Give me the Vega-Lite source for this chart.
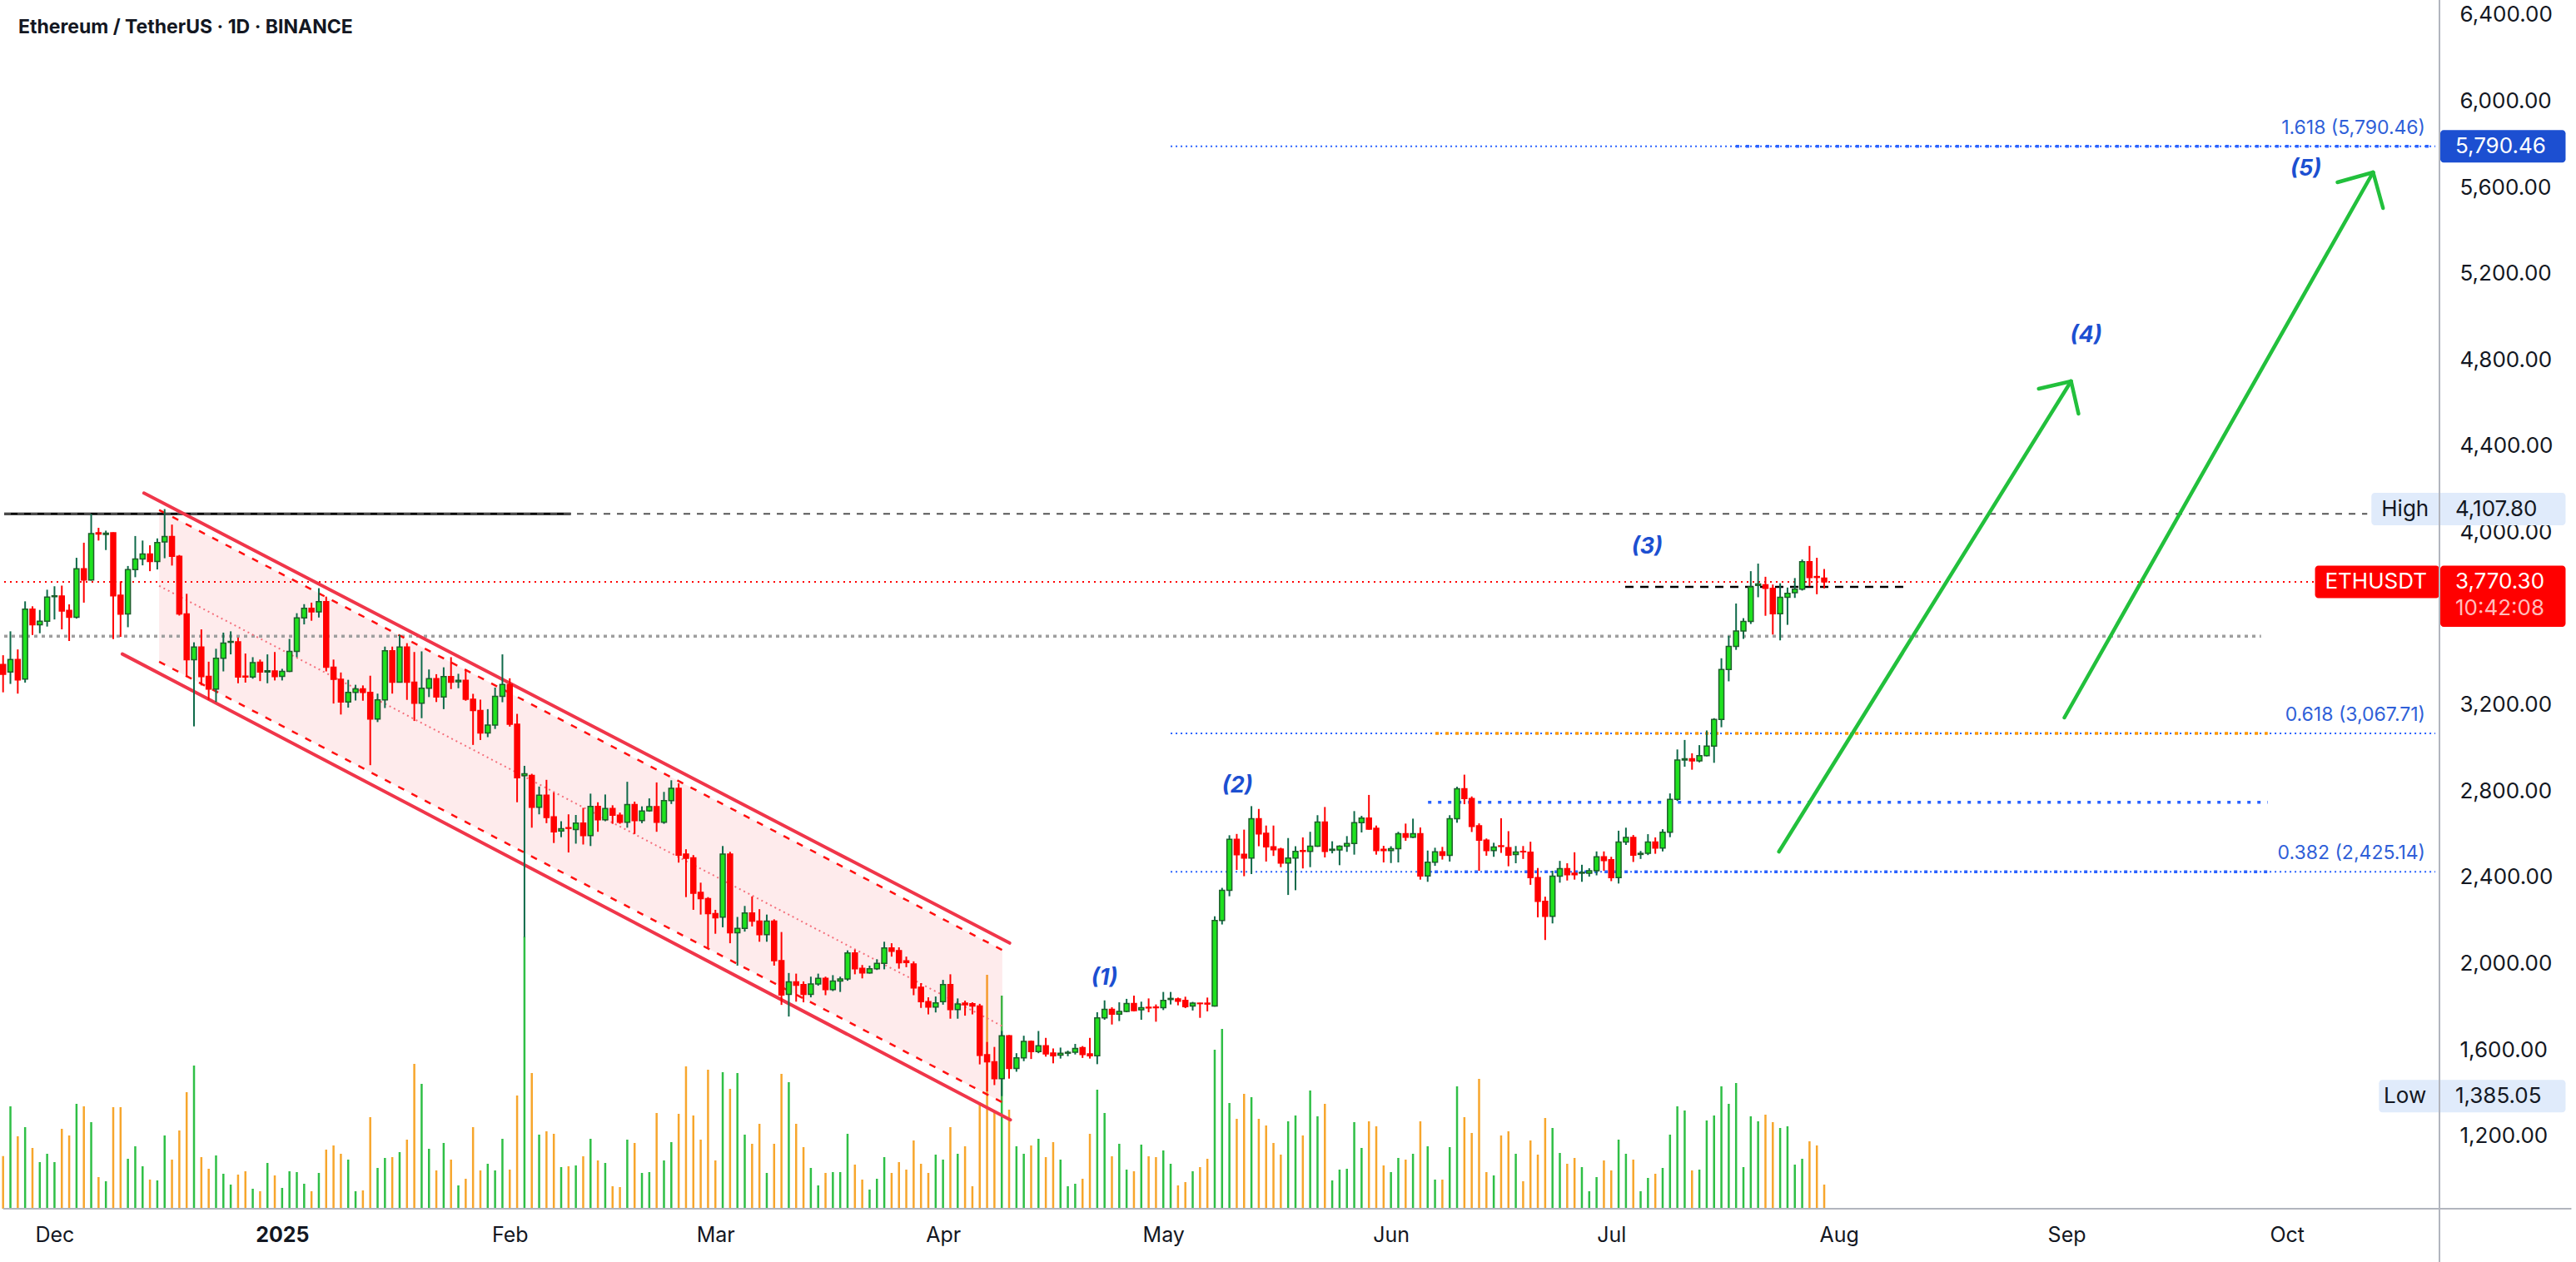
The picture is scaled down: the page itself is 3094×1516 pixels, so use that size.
{
"$schema":"https://vega.github.io/schema/vega-lite/v6.json",
"width":2935,"height":1452,"autosize":"none",
"padding":{"left":0,"top":0,"right":159,"bottom":64},
"background":"white",
"config":{"view":{"stroke":null},"font":"Inter"},
"datasets":{
"candles":[
{"t":"2024-11-24","o":3387,"h":3430,"l":3258,"c":3342,"v":506},
{"t":"2024-11-25","o":3352,"h":3541,"l":3297,"c":3410,"v":984},
{"t":"2024-11-26","o":3410,"h":3457,"l":3252,"c":3316,"v":696},
{"t":"2024-11-27","o":3319,"h":3680,"l":3303,"c":3644,"v":784},
{"t":"2024-11-28","o":3644,"h":3657,"l":3524,"c":3571,"v":584},
{"t":"2024-11-29","o":3571,"h":3640,"l":3532,"c":3588,"v":448},
{"t":"2024-11-30","o":3588,"h":3734,"l":3563,"c":3700,"v":528},
{"t":"2024-12-01","o":3702,"h":3750,"l":3596,"c":3706,"v":448},
{"t":"2024-12-02","o":3705,"h":3753,"l":3550,"c":3635,"v":768},
{"t":"2024-12-03","o":3638,"h":3666,"l":3496,"c":3606,"v":704},
{"t":"2024-12-04","o":3606,"h":3882,"l":3600,"c":3831,"v":1008},
{"t":"2024-12-05","o":3831,"h":3952,"l":3674,"c":3779,"v":984},
{"t":"2024-12-06","o":3779,"h":4086,"l":3776,"c":3994,"v":832},
{"t":"2024-12-07","o":3998,"h":4021,"l":3962,"c":3992,"v":304},
{"t":"2024-12-08","o":3990,"h":4008,"l":3918,"c":3996,"v":264},
{"t":"2024-12-09","o":3998,"h":4000,"l":3505,"c":3706,"v":976},
{"t":"2024-12-10","o":3708,"h":3773,"l":3515,"c":3621,"v":976},
{"t":"2024-12-11","o":3622,"h":3844,"l":3560,"c":3827,"v":480},
{"t":"2024-12-12","o":3827,"h":3983,"l":3792,"c":3876,"v":600},
{"t":"2024-12-13","o":3876,"h":3962,"l":3847,"c":3900,"v":408},
{"t":"2024-12-14","o":3900,"h":3940,"l":3820,"c":3865,"v":280},
{"t":"2024-12-15","o":3865,"h":3972,"l":3828,"c":3953,"v":272},
{"t":"2024-12-16","o":3956,"h":4107.8,"l":3880,"c":3981,"v":704},
{"t":"2024-12-17","o":3981,"h":4036,"l":3846,"c":3889,"v":472},
{"t":"2024-12-18","o":3889,"h":3895,"l":3614,"c":3622,"v":752},
{"t":"2024-12-19","o":3622,"h":3715,"l":3329,"c":3409,"v":1120},
{"t":"2024-12-20","o":3409,"h":3490,"l":3100,"c":3468,"v":1376},
{"t":"2024-12-21","o":3468,"h":3550,"l":3290,"c":3331,"v":496},
{"t":"2024-12-22","o":3332,"h":3400,"l":3223,"c":3273,"v":384},
{"t":"2024-12-23","o":3273,"h":3460,"l":3213,"c":3416,"v":512},
{"t":"2024-12-24","o":3416,"h":3535,"l":3355,"c":3486,"v":336},
{"t":"2024-12-25","o":3490,"h":3541,"l":3434,"c":3494,"v":232},
{"t":"2024-12-26","o":3492,"h":3512,"l":3300,"c":3329,"v":328},
{"t":"2024-12-27","o":3333,"h":3438,"l":3303,"c":3329,"v":360},
{"t":"2024-12-28","o":3329,"h":3421,"l":3321,"c":3396,"v":192},
{"t":"2024-12-29","o":3398,"h":3410,"l":3310,"c":3352,"v":168},
{"t":"2024-12-30","o":3352,"h":3434,"l":3300,"c":3358,"v":440},
{"t":"2024-12-31","o":3357,"h":3445,"l":3313,"c":3331,"v":320},
{"t":"2025-01-01","o":3332,"h":3367,"l":3313,"c":3355,"v":200},
{"t":"2025-01-02","o":3355,"h":3506,"l":3352,"c":3448,"v":360},
{"t":"2025-01-03","o":3448,"h":3625,"l":3421,"c":3603,"v":352},
{"t":"2025-01-04","o":3603,"h":3667,"l":3573,"c":3648,"v":240},
{"t":"2025-01-05","o":3648,"h":3674,"l":3590,"c":3631,"v":168},
{"t":"2025-01-06","o":3631,"h":3741,"l":3605,"c":3679,"v":344},
{"t":"2025-01-07","o":3679,"h":3702,"l":3355,"c":3374,"v":568},
{"t":"2025-01-08","o":3374,"h":3410,"l":3206,"c":3318,"v":608},
{"t":"2025-01-09","o":3318,"h":3350,"l":3155,"c":3213,"v":528},
{"t":"2025-01-10","o":3213,"h":3316,"l":3187,"c":3258,"v":472},
{"t":"2025-01-11","o":3258,"h":3293,"l":3220,"c":3274,"v":168},
{"t":"2025-01-12","o":3274,"h":3290,"l":3219,"c":3258,"v":176},
{"t":"2025-01-13","o":3258,"h":3335,"l":2920,"c":3134,"v":880},
{"t":"2025-01-14","o":3134,"h":3252,"l":3120,"c":3223,"v":392},
{"t":"2025-01-15","o":3223,"h":3470,"l":3185,"c":3451,"v":488},
{"t":"2025-01-16","o":3451,"h":3470,"l":3252,"c":3305,"v":496},
{"t":"2025-01-17","o":3305,"h":3525,"l":3305,"c":3468,"v":544},
{"t":"2025-01-18","o":3468,"h":3486,"l":3223,"c":3305,"v":664},
{"t":"2025-01-19","o":3305,"h":3445,"l":3125,"c":3207,"v":1392},
{"t":"2025-01-20","o":3207,"h":3448,"l":3138,"c":3277,"v":1200},
{"t":"2025-01-21","o":3277,"h":3364,"l":3236,"c":3321,"v":576},
{"t":"2025-01-22","o":3321,"h":3342,"l":3213,"c":3236,"v":368},
{"t":"2025-01-23","o":3236,"h":3374,"l":3180,"c":3331,"v":632},
{"t":"2025-01-24","o":3331,"h":3421,"l":3273,"c":3305,"v":472},
{"t":"2025-01-25","o":3307,"h":3344,"l":3277,"c":3314,"v":224},
{"t":"2025-01-26","o":3314,"h":3365,"l":3219,"c":3226,"v":288},
{"t":"2025-01-27","o":3226,"h":3251,"l":3014,"c":3174,"v":784},
{"t":"2025-01-28","o":3174,"h":3224,"l":3037,"c":3069,"v":368},
{"t":"2025-01-29","o":3069,"h":3180,"l":3050,"c":3106,"v":432},
{"t":"2025-01-30","o":3106,"h":3280,"l":3088,"c":3239,"v":368},
{"t":"2025-01-31","o":3239,"h":3434,"l":3212,"c":3294,"v":672},
{"t":"2025-02-01","o":3294,"h":3323,"l":3099,"c":3110,"v":376},
{"t":"2025-02-02","o":3110,"h":3158,"l":2748,"c":2862,"v":1088},
{"t":"2025-02-03","o":2871,"h":2917,"l":2123,"c":2880,"v":2616},
{"t":"2025-02-04","o":2872,"h":2880,"l":2630,"c":2725,"v":1304},
{"t":"2025-02-05","o":2725,"h":2821,"l":2692,"c":2781,"v":712},
{"t":"2025-02-06","o":2781,"h":2852,"l":2651,"c":2677,"v":744},
{"t":"2025-02-07","o":2680,"h":2793,"l":2559,"c":2611,"v":720},
{"t":"2025-02-08","o":2615,"h":2660,"l":2586,"c":2625,"v":400},
{"t":"2025-02-09","o":2630,"h":2692,"l":2515,"c":2627,"v":408},
{"t":"2025-02-10","o":2621,"h":2689,"l":2556,"c":2651,"v":416},
{"t":"2025-02-11","o":2651,"h":2722,"l":2552,"c":2593,"v":504},
{"t":"2025-02-12","o":2593,"h":2788,"l":2545,"c":2729,"v":672},
{"t":"2025-02-13","o":2729,"h":2748,"l":2611,"c":2667,"v":464},
{"t":"2025-02-14","o":2667,"h":2784,"l":2660,"c":2719,"v":440},
{"t":"2025-02-15","o":2719,"h":2734,"l":2648,"c":2688,"v":216},
{"t":"2025-02-16","o":2688,"h":2700,"l":2648,"c":2655,"v":208},
{"t":"2025-02-17","o":2655,"h":2843,"l":2630,"c":2737,"v":664},
{"t":"2025-02-18","o":2737,"h":2751,"l":2601,"c":2663,"v":632},
{"t":"2025-02-19","o":2663,"h":2729,"l":2651,"c":2707,"v":344},
{"t":"2025-02-20","o":2708,"h":2766,"l":2704,"c":2728,"v":352},
{"t":"2025-02-21","o":2728,"h":2840,"l":2611,"c":2655,"v":920},
{"t":"2025-02-22","o":2655,"h":2796,"l":2648,"c":2756,"v":464},
{"t":"2025-02-23","o":2756,"h":2850,"l":2740,"c":2813,"v":640},
{"t":"2025-02-24","o":2813,"h":2836,"l":2468,"c":2503,"v":912},
{"t":"2025-02-25","o":2508,"h":2530,"l":2308,"c":2488,"v":1368},
{"t":"2025-02-26","o":2490,"h":2503,"l":2249,"c":2326,"v":896},
{"t":"2025-02-27","o":2330,"h":2375,"l":2227,"c":2301,"v":664},
{"t":"2025-02-28","o":2301,"h":2308,"l":2072,"c":2231,"v":1336},
{"t":"2025-03-01","o":2231,"h":2249,"l":2138,"c":2212,"v":464},
{"t":"2025-03-02","o":2215,"h":2545,"l":2168,"c":2508,"v":1312},
{"t":"2025-03-03","o":2508,"h":2518,"l":2094,"c":2143,"v":1152},
{"t":"2025-03-04","o":2143,"h":2216,"l":1990,"c":2163,"v":1304},
{"t":"2025-03-05","o":2163,"h":2267,"l":2148,"c":2234,"v":712},
{"t":"2025-03-06","o":2234,"h":2311,"l":2172,"c":2197,"v":624},
{"t":"2025-03-07","o":2197,"h":2252,"l":2101,"c":2134,"v":816},
{"t":"2025-03-08","o":2134,"h":2227,"l":2101,"c":2197,"v":344},
{"t":"2025-03-09","o":2197,"h":2205,"l":1990,"c":2013,"v":624},
{"t":"2025-03-10","o":2013,"h":2146,"l":1808,"c":1854,"v":1296},
{"t":"2025-03-11","o":1857,"h":1956,"l":1754,"c":1915,"v":1216},
{"t":"2025-03-12","o":1915,"h":1953,"l":1823,"c":1899,"v":816},
{"t":"2025-03-13","o":1902,"h":1917,"l":1820,"c":1857,"v":592},
{"t":"2025-03-14","o":1857,"h":1939,"l":1843,"c":1905,"v":392},
{"t":"2025-03-15","o":1905,"h":1953,"l":1897,"c":1931,"v":224},
{"t":"2025-03-16","o":1931,"h":1939,"l":1853,"c":1879,"v":344},
{"t":"2025-03-17","o":1879,"h":1946,"l":1872,"c":1919,"v":352},
{"t":"2025-03-18","o":1919,"h":1939,"l":1868,"c":1928,"v":352},
{"t":"2025-03-19","o":1928,"h":2061,"l":1920,"c":2049,"v":720},
{"t":"2025-03-20","o":2049,"h":2064,"l":1950,"c":1976,"v":424},
{"t":"2025-03-21","o":1978,"h":1993,"l":1931,"c":1956,"v":280},
{"t":"2025-03-22","o":1956,"h":1990,"l":1953,"c":1976,"v":184},
{"t":"2025-03-23","o":1976,"h":2020,"l":1970,"c":2001,"v":288},
{"t":"2025-03-24","o":2001,"h":2101,"l":1973,"c":2072,"v":496},
{"t":"2025-03-25","o":2072,"h":2094,"l":2032,"c":2057,"v":344},
{"t":"2025-03-26","o":2060,"h":2075,"l":1976,"c":2004,"v":448},
{"t":"2025-03-27","o":2012,"h":2032,"l":1983,"c":2005,"v":376},
{"t":"2025-03-28","o":1998,"h":2010,"l":1853,"c":1887,"v":656},
{"t":"2025-03-29","o":1890,"h":1909,"l":1794,"c":1823,"v":432},
{"t":"2025-03-30","o":1823,"h":1843,"l":1764,"c":1798,"v":344},
{"t":"2025-03-31","o":1798,"h":1847,"l":1773,"c":1817,"v":520},
{"t":"2025-04-01","o":1823,"h":1924,"l":1809,"c":1902,"v":472},
{"t":"2025-04-02","o":1902,"h":1950,"l":1744,"c":1786,"v":784},
{"t":"2025-04-03","o":1786,"h":1838,"l":1744,"c":1812,"v":528},
{"t":"2025-04-04","o":1816,"h":1828,"l":1758,"c":1809,"v":600},
{"t":"2025-04-05","o":1813,"h":1820,"l":1764,"c":1803,"v":216},
{"t":"2025-04-06","o":1803,"h":1813,"l":1532,"c":1574,"v":1024},
{"t":"2025-04-07","o":1577,"h":1636,"l":1407,"c":1544,"v":2248},
{"t":"2025-04-08","o":1544,"h":1613,"l":1436,"c":1466,"v":944},
{"t":"2025-04-09","o":1466,"h":1687,"l":1385.05,"c":1665,"v":2048},
{"t":"2025-04-10","o":1665,"h":1668,"l":1466,"c":1513,"v":952},
{"t":"2025-04-11","o":1513,"h":1584,"l":1498,"c":1562,"v":600},
{"t":"2025-04-12","o":1562,"h":1665,"l":1547,"c":1639,"v":528},
{"t":"2025-04-13","o":1639,"h":1643,"l":1557,"c":1591,"v":608},
{"t":"2025-04-14","o":1591,"h":1687,"l":1584,"c":1618,"v":672},
{"t":"2025-04-15","o":1618,"h":1655,"l":1568,"c":1581,"v":496},
{"t":"2025-04-16","o":1585,"h":1606,"l":1537,"c":1572,"v":640},
{"t":"2025-04-17","o":1575,"h":1610,"l":1559,"c":1584,"v":472},
{"t":"2025-04-18","o":1584,"h":1596,"l":1570,"c":1588,"v":216},
{"t":"2025-04-19","o":1588,"h":1627,"l":1578,"c":1606,"v":240},
{"t":"2025-04-20","o":1610,"h":1617,"l":1562,"c":1578,"v":288},
{"t":"2025-04-21","o":1581,"h":1655,"l":1559,"c":1572,"v":720},
{"t":"2025-04-22","o":1572,"h":1774,"l":1533,"c":1748,"v":1144},
{"t":"2025-04-23","o":1748,"h":1829,"l":1739,"c":1787,"v":920},
{"t":"2025-04-24","o":1787,"h":1797,"l":1717,"c":1765,"v":504},
{"t":"2025-04-25","o":1765,"h":1820,"l":1733,"c":1778,"v":624},
{"t":"2025-04-26","o":1778,"h":1836,"l":1774,"c":1814,"v":376},
{"t":"2025-04-27","o":1814,"h":1851,"l":1778,"c":1782,"v":360},
{"t":"2025-04-28","o":1785,"h":1823,"l":1739,"c":1795,"v":616},
{"t":"2025-04-29","o":1797,"h":1838,"l":1774,"c":1794,"v":504},
{"t":"2025-04-30","o":1798,"h":1810,"l":1730,"c":1795,"v":496},
{"t":"2025-05-01","o":1795,"h":1868,"l":1784,"c":1829,"v":560},
{"t":"2025-05-02","o":1833,"h":1868,"l":1810,"c":1838,"v":432},
{"t":"2025-05-03","o":1836,"h":1842,"l":1806,"c":1825,"v":224},
{"t":"2025-05-04","o":1829,"h":1846,"l":1793,"c":1800,"v":256},
{"t":"2025-05-05","o":1803,"h":1822,"l":1782,"c":1816,"v":360},
{"t":"2025-05-06","o":1816,"h":1818,"l":1748,"c":1814,"v":400},
{"t":"2025-05-07","o":1816,"h":1842,"l":1778,"c":1812,"v":480},
{"t":"2025-05-08","o":1803,"h":2219,"l":1800,"c":2200,"v":1528},
{"t":"2025-05-09","o":2200,"h":2351,"l":2181,"c":2340,"v":1728},
{"t":"2025-05-10","o":2340,"h":2595,"l":2312,"c":2576,"v":1016},
{"t":"2025-05-11","o":2576,"h":2601,"l":2434,"c":2505,"v":864},
{"t":"2025-05-12","o":2507,"h":2621,"l":2405,"c":2489,"v":1104},
{"t":"2025-05-13","o":2489,"h":2730,"l":2415,"c":2672,"v":1072},
{"t":"2025-05-14","o":2672,"h":2717,"l":2544,"c":2601,"v":864},
{"t":"2025-05-15","o":2604,"h":2640,"l":2473,"c":2541,"v":800},
{"t":"2025-05-16","o":2541,"h":2640,"l":2499,"c":2528,"v":632},
{"t":"2025-05-17","o":2531,"h":2537,"l":2447,"c":2466,"v":520},
{"t":"2025-05-18","o":2466,"h":2582,"l":2318,"c":2489,"v":840},
{"t":"2025-05-19","o":2489,"h":2544,"l":2340,"c":2520,"v":896},
{"t":"2025-05-20","o":2524,"h":2585,"l":2441,"c":2520,"v":704},
{"t":"2025-05-21","o":2520,"h":2611,"l":2447,"c":2544,"v":1136},
{"t":"2025-05-22","o":2544,"h":2688,"l":2541,"c":2656,"v":888},
{"t":"2025-05-23","o":2656,"h":2726,"l":2492,"c":2520,"v":1008},
{"t":"2025-05-24","o":2525,"h":2567,"l":2511,"c":2530,"v":272},
{"t":"2025-05-25","o":2527,"h":2548,"l":2456,"c":2544,"v":376},
{"t":"2025-05-26","o":2544,"h":2591,"l":2518,"c":2557,"v":384},
{"t":"2025-05-27","o":2557,"h":2707,"l":2505,"c":2653,"v":832},
{"t":"2025-05-28","o":2653,"h":2685,"l":2608,"c":2675,"v":584},
{"t":"2025-05-29","o":2675,"h":2782,"l":2621,"c":2623,"v":840},
{"t":"2025-05-30","o":2627,"h":2640,"l":2505,"c":2524,"v":792},
{"t":"2025-05-31","o":2530,"h":2546,"l":2469,"c":2524,"v":416},
{"t":"2025-06-01","o":2524,"h":2544,"l":2466,"c":2533,"v":352},
{"t":"2025-06-02","o":2533,"h":2611,"l":2469,"c":2602,"v":488},
{"t":"2025-06-03","o":2602,"h":2649,"l":2569,"c":2586,"v":472},
{"t":"2025-06-04","o":2586,"h":2672,"l":2582,"c":2602,"v":528},
{"t":"2025-06-05","o":2602,"h":2631,"l":2389,"c":2406,"v":840},
{"t":"2025-06-06","o":2406,"h":2524,"l":2379,"c":2470,"v":600},
{"t":"2025-06-07","o":2470,"h":2537,"l":2453,"c":2518,"v":280},
{"t":"2025-06-08","o":2518,"h":2541,"l":2482,"c":2502,"v":280},
{"t":"2025-06-09","o":2502,"h":2688,"l":2473,"c":2672,"v":592},
{"t":"2025-06-10","o":2672,"h":2820,"l":2653,"c":2811,"v":1176},
{"t":"2025-06-11","o":2811,"h":2876,"l":2739,"c":2765,"v":880},
{"t":"2025-06-12","o":2765,"h":2775,"l":2610,"c":2636,"v":728},
{"t":"2025-06-13","o":2639,"h":2650,"l":2430,"c":2572,"v":1248},
{"t":"2025-06-14","o":2572,"h":2580,"l":2500,"c":2524,"v":352},
{"t":"2025-06-15","o":2524,"h":2560,"l":2495,"c":2540,"v":320},
{"t":"2025-06-16","o":2546,"h":2674,"l":2513,"c":2543,"v":704},
{"t":"2025-06-17","o":2537,"h":2614,"l":2451,"c":2503,"v":744},
{"t":"2025-06-18","o":2506,"h":2545,"l":2465,"c":2517,"v":528},
{"t":"2025-06-19","o":2520,"h":2545,"l":2485,"c":2518,"v":264},
{"t":"2025-06-20","o":2516,"h":2565,"l":2365,"c":2398,"v":656},
{"t":"2025-06-21","o":2398,"h":2443,"l":2214,"c":2288,"v":520},
{"t":"2025-06-22","o":2288,"h":2310,"l":2109,"c":2219,"v":872},
{"t":"2025-06-23","o":2219,"h":2430,"l":2186,"c":2405,"v":776},
{"t":"2025-06-24","o":2405,"h":2476,"l":2375,"c":2440,"v":536},
{"t":"2025-06-25","o":2440,"h":2465,"l":2385,"c":2412,"v":432},
{"t":"2025-06-26","o":2419,"h":2516,"l":2389,"c":2412,"v":488},
{"t":"2025-06-27","o":2419,"h":2458,"l":2379,"c":2423,"v":400},
{"t":"2025-06-28","o":2419,"h":2442,"l":2403,"c":2430,"v":168},
{"t":"2025-06-29","o":2430,"h":2520,"l":2409,"c":2495,"v":304},
{"t":"2025-06-30","o":2495,"h":2520,"l":2430,"c":2478,"v":464},
{"t":"2025-07-01","o":2481,"h":2495,"l":2382,"c":2398,"v":368},
{"t":"2025-07-02","o":2398,"h":2616,"l":2371,"c":2564,"v":664},
{"t":"2025-07-03","o":2564,"h":2630,"l":2550,"c":2585,"v":528},
{"t":"2025-07-04","o":2585,"h":2596,"l":2471,"c":2503,"v":472},
{"t":"2025-07-05","o":2506,"h":2522,"l":2485,"c":2511,"v":168},
{"t":"2025-07-06","o":2511,"h":2600,"l":2503,"c":2564,"v":296},
{"t":"2025-07-07","o":2564,"h":2585,"l":2509,"c":2536,"v":336},
{"t":"2025-07-08","o":2536,"h":2623,"l":2520,"c":2609,"v":392},
{"t":"2025-07-09","o":2609,"h":2789,"l":2586,"c":2761,"v":712},
{"t":"2025-07-10","o":2761,"h":2993,"l":2754,"c":2944,"v":984},
{"t":"2025-07-11","o":2944,"h":3037,"l":2913,"c":2950,"v":944},
{"t":"2025-07-12","o":2950,"h":2975,"l":2899,"c":2940,"v":368},
{"t":"2025-07-13","o":2940,"h":3013,"l":2933,"c":2964,"v":376},
{"t":"2025-07-14","o":2964,"h":3081,"l":2961,"c":3009,"v":848},
{"t":"2025-07-15","o":3009,"h":3138,"l":2931,"c":3132,"v":896},
{"t":"2025-07-16","o":3132,"h":3416,"l":3096,"c":3364,"v":1176},
{"t":"2025-07-17","o":3364,"h":3520,"l":3309,"c":3471,"v":1008},
{"t":"2025-07-18","o":3471,"h":3670,"l":3455,"c":3542,"v":1208},
{"t":"2025-07-19","o":3542,"h":3602,"l":3506,"c":3587,"v":400},
{"t":"2025-07-20","o":3587,"h":3820,"l":3575,"c":3747,"v":888},
{"t":"2025-07-21","o":3754,"h":3855,"l":3699,"c":3761,"v":840},
{"t":"2025-07-22","o":3757,"h":3794,"l":3613,"c":3740,"v":904},
{"t":"2025-07-23","o":3740,"h":3758,"l":3526,"c":3623,"v":832},
{"t":"2025-07-24","o":3623,"h":3764,"l":3499,"c":3699,"v":776},
{"t":"2025-07-25","o":3699,"h":3744,"l":3571,"c":3717,"v":792},
{"t":"2025-07-26","o":3720,"h":3788,"l":3696,"c":3736,"v":424},
{"t":"2025-07-27","o":3736,"h":3874,"l":3730,"c":3864,"v":480},
{"t":"2025-07-28","o":3864,"h":3937,"l":3750,"c":3791,"v":648},
{"t":"2025-07-29","o":3795,"h":3882,"l":3713,"c":3791,"v":608},
{"t":"2025-07-30","o":3788,"h":3830,"l":3740,"c":3770.3,"v":232}
],
"lines":[
{"id":"blk","t":"2024-11-24T03:32Z","p":4086},{"id":"blk","t":"2025-02-09T07:41Z","p":4086},
{"id":"hid","t":"2024-11-24T03:32Z","p":4086},{"id":"hid","t":"2025-10-11T22:48Z","p":4086},
{"id":"cur","t":"2024-11-24T03:32Z","p":3770.3},{"id":"cur","t":"2025-10-04T20:10Z","p":3770.3},
{"id":"g35","t":"2024-11-24T03:32Z","p":3518},{"id":"g35","t":"2025-09-27T11:46Z","p":3518},
{"id":"bk37","t":"2025-07-02T21:36Z","p":3747},{"id":"bk37","t":"2025-08-10T08:38Z","p":3747},
{"id":"f1618","t":"2025-05-02T00:00Z","p":5790.46},{"id":"f1618","t":"2025-10-21T05:16Z","p":5790.46},
{"id":"f0618","t":"2025-05-02T00:00Z","p":3067.71},{"id":"f0618","t":"2025-10-21T05:16Z","p":3067.71},
{"id":"f0382","t":"2025-05-02T00:00Z","p":2425.14},{"id":"f0382","t":"2025-10-21T05:16Z","p":2425.14},
{"id":"b1618","t":"2025-07-17T23:17Z","p":5790.46},{"id":"b1618","t":"2025-10-21T05:16Z","p":5790.46},
{"id":"b2748","t":"2025-06-06T01:12Z","p":2748},{"id":"b2748","t":"2025-09-28T09:36Z","p":2748},
{"id":"b2425","t":"2025-06-06T22:48Z","p":2425.14},{"id":"b2425","t":"2025-09-28T09:36Z","p":2425.14},
{"id":"or3067","t":"2025-06-07T01:26Z","p":3067.71},{"id":"or3067","t":"2025-09-28T09:36Z","p":3067.71},
{"id":"chU","t":"2024-12-13T04:19Z","p":4182.3},{"id":"chU","t":"2025-04-10T01:41Z","p":2095.1},
{"id":"chL","t":"2024-12-10T05:46Z","p":3435.8},{"id":"chL","t":"2025-04-10T04:05Z","p":1274.9},
{"id":"chUd","t":"2024-12-15T06:00Z","p":4103.9},{"id":"chUd","t":"2025-04-09T01:41Z","p":2062.6},
{"id":"chLd","t":"2024-12-15T06:00Z","p":3399.9},{"id":"chLd","t":"2025-04-09T01:41Z","p":1356},
{"id":"chM","t":"2024-12-15T06:00Z","p":3751.9},{"id":"chM","t":"2025-04-09T01:41Z","p":1709.3},
{"id":"a1","t":"2025-07-23T20:10Z","p":2519},{"id":"a1","t":"2025-09-01T14:53Z","p":4701},
{"id":"a1l","t":"2025-09-01T14:53Z","p":4701},{"id":"a1l","t":"2025-08-28T05:02Z","p":4666},
{"id":"a1r","t":"2025-09-01T14:53Z","p":4701},{"id":"a1r","t":"2025-09-02T15:07Z","p":4550},
{"id":"a2","t":"2025-08-31T17:02Z","p":3140.8},{"id":"a2","t":"2025-10-12T18:00Z","p":5670.2},
{"id":"a2l","t":"2025-10-12T18:00Z","p":5670.2},{"id":"a2l","t":"2025-10-07T21:22Z","p":5623.8},
{"id":"a2r","t":"2025-10-12T18:00Z","p":5670.2},{"id":"a2r","t":"2025-10-14T02:24Z","p":5504.1}
],
"chfill":[
{"t":"2024-12-15T06:00Z","top":4103.9,"bot":3399.9},
{"t":"2025-04-09T01:41Z","top":2062.6,"bot":1356}
],
"waves":[
{"t":"2025-04-22T23:31Z","p":1932,"s":"(1)"},
{"t":"2025-05-11T02:00Z","p":2824,"s":"(2)"},
{"t":"2025-07-05T21:07Z","p":3933,"s":"(3)"},
{"t":"2025-09-03T15:36Z","p":4913,"s":"(4)"},
{"t":"2025-10-03T14:10Z","p":5685.6,"s":"(5)"}
],
"fibs":[
{"t":"2025-10-19T20:38Z","p":5874.8,"s":"1.618 (5,790.46)"},
{"t":"2025-10-19T20:38Z","p":3153.5,"s":"0.618 (3,067.71)"},
{"t":"2025-10-19T20:38Z","p":2513.3,"s":"0.382 (2,425.14)"}
],
"title":[{"t":"2024-11-26T01:41Z","p":6315,"s":"Ethereum / TetherUS · 1D · BINANCE"}],
"badges":[
{"k":"blue","t1":"2025-10-21T21:36Z","t2":"2025-11-07T23:02Z","p1":5715.2,"p2":5865.8},
{"k":"light","t1":"2025-10-12T12:29Z","t2":"2025-11-07T23:02Z","p1":4032.5,"p2":4183.1},
{"k":"red","t1":"2025-10-04T20:10Z","t2":"2025-10-21T18:50Z","p1":3695,"p2":3845.6},
{"k":"red","t1":"2025-10-21T21:36Z","t2":"2025-11-07T23:02Z","p1":3561.7,"p2":3845.6},
{"k":"light","t1":"2025-10-13T12:58Z","t2":"2025-11-07T23:02Z","p1":1309.8,"p2":1460.4}
],
"btext":[
{"k":"w","t":"2025-10-23T22:19Z","p":5790.46,"s":"5,790.46"},
{"k":"d","t":"2025-10-23T22:19Z","p":4107.8,"s":"4,107.80"},
{"k":"d","t":"2025-10-13T21:07Z","p":4107.8,"s":"High"},
{"k":"w","t":"2025-10-06T04:34Z","p":3770.3,"s":"ETHUSDT"},
{"k":"w","t":"2025-10-23T22:19Z","p":3770.3,"s":"3,770.30"},
{"k":"f","t":"2025-10-23T22:19Z","p":3646.7,"s":"10:42:08"},
{"k":"d","t":"2025-10-14T04:48Z","p":1385.05,"s":"Low"},
{"k":"d","t":"2025-10-23T22:19Z","p":1385.05,"s":"1,385.05"}
],
"seps":[
{"t1":"2025-10-21T18:50Z","t2":"2025-10-21T18:50Z","p1":615,"p2":6470},
{"t1":"2024-11-24T00:00Z","t2":"2025-11-08T18:00Z","p1":862.5,"p2":862.5}
]
},
"layer":[
{
"data":{"name":"candles"},
"mark":{"type":"bar","width":2.5},
"encoding":{
"x":{"field":"t","type":"temporal","scale":{"type":"utc","domain":[{"year":2024,"month":11,"date":24,"hours":3,"minutes":32,"utc":true},{"year":2025,"month":10,"date":21,"hours":18,"minutes":50,"utc":true}]},
   "axis":{"values":[{"year":2024,"month":12,"date":1,"utc":true},{"year":2025,"month":1,"date":1,"utc":true},{"year":2025,"month":2,"date":1,"utc":true},{"year":2025,"month":3,"date":1,"utc":true},{"year":2025,"month":4,"date":1,"utc":true},{"year":2025,"month":5,"date":1,"utc":true},{"year":2025,"month":6,"date":1,"utc":true},{"year":2025,"month":7,"date":1,"utc":true},{"year":2025,"month":8,"date":1,"utc":true},{"year":2025,"month":9,"date":1,"utc":true},{"year":2025,"month":10,"date":1,"utc":true}],
   "labelExpr":"utcmonth(datum.value) === 0 ? '2025' : utcFormat(datum.value, '%b')",
   "labelFontWeight":{"condition":{"test":"utcmonth(datum.value) === 0","value":"bold"},"value":"normal"},
   "labelFont":"Inter","labelFontSize":25,"labelColor":"#131722","labelPadding":19,"ticks":false,"domain":false,"grid":false,"title":null,"labelOverlap":false,"labelFlush":false}},
"y":{"field":"v","type":"quantitative","scale":{"domain":[0,11616],"nice":false,"zero":true},"axis":null},
"color":{"condition":{"test":"datum.c >= datum.o","value":"#2fbf46"},"value":"#f7a62c"}
}
},
{
"encoding":{
"x":{"field":"t","type":"temporal","scale":{"type":"utc","domain":[{"year":2024,"month":11,"date":24,"hours":3,"minutes":32,"utc":true},{"year":2025,"month":10,"date":21,"hours":18,"minutes":50,"utc":true}]}},
"y":{"field":"p","type":"quantitative","scale":{"domain":[862.5,6469.5],"nice":false,"zero":false}}
},
"layer":[
{"data":{"name":"chfill"},"mark":{"type":"area","color":"#f23645","opacity":0.1},
 "encoding":{"y":{"field":"top","type":"quantitative"},"y2":{"field":"bot"}}},
{"data":{"name":"lines"},"transform":[{"filter":"indexof(['f1618','f0618','f0382'], datum.id) >= 0"}],
 "mark":{"type":"line","color":"#2962ff","strokeWidth":2,"strokeDash":[2,4]},"encoding":{"detail":{"field":"id"}}},
{"data":{"name":"lines"},"transform":[{"filter":"indexof(['b1618','b2748','b2425'], datum.id) >= 0"}],
 "mark":{"type":"line","color":"#2962ff","strokeWidth":3.5,"strokeDash":[4,8]},"encoding":{"detail":{"field":"id"}}},
{"data":{"name":"lines"},"transform":[{"filter":"datum.id == 'or3067'"}],
 "mark":{"type":"line","color":"#ff9800","strokeWidth":3.5,"strokeDash":[4,8]},"encoding":{"detail":{"field":"id"}}},
{"data":{"name":"lines"},"transform":[{"filter":"datum.id == 'g35'"}],
 "mark":{"type":"line","color":"#9e9e9e","strokeWidth":3.5,"strokeDash":[4,5]},"encoding":{"detail":{"field":"id"}}},
{"data":{"name":"lines"},"transform":[{"filter":"datum.id == 'blk'"}],
 "mark":{"type":"line","color":"#000000","strokeWidth":3},"encoding":{"detail":{"field":"id"}}},
{"data":{"name":"lines"},"transform":[{"filter":"datum.id == 'hid'"}],
 "mark":{"type":"line","color":"#555555","strokeWidth":2,"strokeDash":[8,8]},"encoding":{"detail":{"field":"id"}}},
{"data":{"name":"lines"},"transform":[{"filter":"datum.id == 'cur'"}],
 "mark":{"type":"line","color":"#ff0000","strokeWidth":2,"strokeDash":[2,5]},"encoding":{"detail":{"field":"id"}}},
{"data":{"name":"lines"},"transform":[{"filter":"datum.id == 'bk37'"}],
 "mark":{"type":"line","color":"#000000","strokeWidth":2.5,"strokeDash":[10,8]},"encoding":{"detail":{"field":"id"}}},
{"data":{"name":"lines"},"transform":[{"filter":"datum.id == 'chU' || datum.id == 'chL'"}],
 "mark":{"type":"line","color":"#f0364a","strokeWidth":4,"strokeCap":"round"},"encoding":{"detail":{"field":"id"}}},
{"data":{"name":"lines"},"transform":[{"filter":"datum.id == 'chUd' || datum.id == 'chLd'"}],
 "mark":{"type":"line","color":"#ff1010","strokeWidth":2.5,"strokeDash":[8,10]},"encoding":{"detail":{"field":"id"}}},
{"data":{"name":"lines"},"transform":[{"filter":"datum.id == 'chM'"}],
 "mark":{"type":"line","color":"#f5707c","strokeWidth":2,"strokeDash":[2,4]},"encoding":{"detail":{"field":"id"}}},
{"data":{"name":"candles"},"mark":{"type":"rule","strokeWidth":2},
 "encoding":{"y":{"field":"l","type":"quantitative"},"y2":{"field":"h"},
  "stroke":{"condition":{"test":"datum.c >= datum.o","value":"#0f6a4a"},"value":"#ff0000"}}},
{"data":{"name":"candles"},"mark":{"type":"bar","width":6,"strokeWidth":1.5},
 "encoding":{"y":{"field":"o","type":"quantitative",
  "axis":{"orient":"right","values":[1200,1600,2000,2400,2800,3200,4000,4400,4800,5200,5600,6000,6400],"format":",.2f","labelFont":"Inter","labelFontSize":26,"labelColor":"#131722","labelPadding":19,"labelAlign":"left","labelBaseline":"middle","ticks":false,"domain":false,"grid":false,"title":null,"labelOverlap":false}},
  "y2":{"field":"c"},
  "fill":{"condition":{"test":"datum.c >= datum.o","value":"#1fe11f"},"value":"#ff0000"},
  "stroke":{"condition":{"test":"datum.c >= datum.o","value":"#1d5e2a"},"value":"#ff0000"}}},
{"data":{"name":"lines"},"transform":[{"filter":"indexof(['a1','a1l','a1r','a2','a2l','a2r'], datum.id) >= 0"}],
 "mark":{"type":"line","color":"#22c03c","strokeWidth":4.5,"strokeCap":"round"},"encoding":{"detail":{"field":"id"}}},
{"data":{"name":"waves"},"mark":{"type":"text","font":"Inter","fontSize":27,"fontWeight":"bold","fontStyle":"italic","color":"#1c4fd1","align":"center","baseline":"middle"},
 "encoding":{"text":{"field":"s"}}},
{"data":{"name":"fibs"},"mark":{"type":"text","font":"Inter","fontSize":23,"color":"#2f5fd8","align":"right","baseline":"middle"},
 "encoding":{"text":{"field":"s"}}},
{"data":{"name":"title"},"mark":{"type":"text","font":"Inter","fontSize":23,"fontWeight":"bold","color":"#131722","align":"left","baseline":"alphabetic"},
 "encoding":{"text":{"field":"s"}}},
{"data":{"name":"badges"},"mark":{"type":"rect","cornerRadius":4},
 "encoding":{"x":{"field":"t1","type":"temporal"},"x2":{"field":"t2"},"y":{"field":"p1","type":"quantitative"},"y2":{"field":"p2"},
  "fill":{"field":"k","type":"nominal","scale":{"domain":["blue","light","red"],"range":["#1c4fd1","#e0ebfb","#ff0000"]},"legend":null}}},
{"data":{"name":"btext"},"mark":{"type":"text","font":"Inter","fontSize":26,"align":"left","baseline":"middle"},
 "encoding":{"text":{"field":"s"},
  "color":{"field":"k","type":"nominal","scale":{"domain":["w","d","f"],"range":["#ffffff","#131722","#ffbcbc"]},"legend":null}}},
{"data":{"name":"seps"},"mark":{"type":"rule","color":"#b2b5be","strokeWidth":2},
 "encoding":{"x":{"field":"t1","type":"temporal"},"x2":{"field":"t2"},"y":{"field":"p1","type":"quantitative"},"y2":{"field":"p2"}}}
]
}
],
"resolve":{"scale":{"y":"independent"}}
}
